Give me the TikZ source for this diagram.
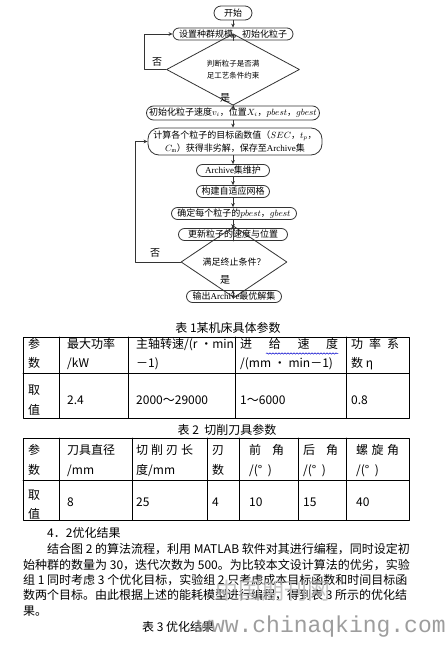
\documentclass[tikz,border=0pt]{standalone}
\usepackage{fontspec}
\setmainfont{Liberation Serif}
\newfontfamily\cjk{Noto Sans CJK SC}
\newfontfamily\wmfont{Liberation Mono}
\usetikzlibrary{arrows.meta,shapes.geometric,decorations.pathmorphing}
\newcommand\fcfont{\cjk\fontsize{9}{11}\selectfont}
\newcommand\tabfont{\cjk\fontsize{12}{14}\selectfont}

\begin{document}
\begin{tikzpicture}[x=1pt, y=-1pt, >={Stealth[length=4pt,width=3.6pt]},
    line cap=round, line join=round,
    box/.style={draw=black!80, line width=0.8pt, rounded corners=6pt,
                inner sep=0pt, font=\fcfont, align=center, minimum height=12pt},
    cond/.style={draw=black!80, line width=0.8pt, diamond, inner sep=0pt,
                 font=\fcfont, align=center},
    flow/.style={->, draw=black!80, line width=0.8pt},
    lab/.style={font=\cjk\fontsize{10}{12}\selectfont, inner sep=0pt},
    cell/.style={anchor=base west, font=\tabfont, inner sep=0pt},
    tabline/.style={line width=0.9pt}]
  \useasboundingbox (0,0) rectangle (447,661);
  \fill[white] (0,0) rectangle (447,661);

  % Flowchart boxes (image coordinates, y down)
  \node[box, minimum width=38pt, minimum height=14pt, rounded corners=7pt] (start) at (233,13) {开始};
  \node[box, minimum width=120pt] (init) at (233,34) {设置种群规模，初始化粒子};
  \node[cond, minimum width=133pt, minimum height=38pt,
        font=\cjk\fontsize{7.5}{12}\selectfont] (check) at (233,69.5) {判断粒子是否满\\足工艺条件约束};
  \node[box, minimum width=173pt, minimum height=14pt, rounded corners=7pt] (initv) at (233,113)
    {初始化粒子速度$v_i$，位置$X_i$，$pbest$，$gbest$};
  \node[box, minimum width=174pt, minimum height=27pt, rounded corners=11pt,
        font=\cjk\fontsize{9}{13}\selectfont] (evalf) at (235,141.5)
    {计算各个粒子的目标函数值（$SEC$，$t_p$，\\$C_{\mathrm{m}}$）获得非劣解，保存至{\rmfamily Archive}集};
  \node[box, minimum width=73pt] (archive) at (233,170.5) {{\rmfamily Archive}集维护};
  \node[box, minimum width=73pt] (mesh) at (233,191.5) {构建自适应网格};
  \node[box, minimum width=125pt] (best) at (234,213.5) {确定每个粒子的$pbest$，$gbest$};
  \node[box, minimum width=109pt] (update) at (233,234.5) {更新粒子的速度与位置};
  \node[cond, minimum width=106pt, minimum height=23pt] (stop) at (234,262) {满足终止条件？};
  \node[box, minimum width=95pt] (output) at (234,296.5) {输出{\rmfamily Archive}最优解集};

  % Main flow
  \foreach \a/\b in {start/init, init/check, check/initv, initv/evalf, evalf/archive,
                     archive/mesh, mesh/best, best/update, update/stop, stop/output}
    \draw[flow] (\a.south -| init.center) -- (\b.north -| init.center);

  % Loops back
  \draw[flow] (check.west) -- ++(-22,0) |- (init.west);
  \draw[flow] (stop.west) -- ++(-45,0) |- (evalf.west);

  % Branch labels
  \node[lab] (no1) at (157,62) {否};
  \node[lab] (yes1) at (225,98) {是};
  \node[lab] (no2) at (155,253) {否};
  \node[lab] (yes2) at (225,280) {是};

  % Table 1
  \node[font=\tabfont, inner sep=0pt] (cap1) at (228,328) {表 1某机床具体参数};
  \draw[tabline] (23,337) rectangle (409,418) (23,373) -- (409,373);
  \foreach \x in {59,128,235,346} \draw[tabline] (\x,337) -- (\x,418);
  \node[cell] (t1a) at (28,348.5) {参};
  \node[cell] (t1b) at (28,367.5) {数};
  \node[cell] (t1c) at (67,348.5) {最大功率};
  \node[cell] (t1d) at (67,367.5) {/kW};
  \node[cell] (t1e) at (136,348.5) {主轴转速/(r ·min};
  \node[cell] (t1f) at (136,367.5) {－1)};
  \node[cell] (t1g) at (240,348.5) {\makebox[98pt][s]{进\hfill 给\hfill 速\hfill 度}};
  \node[cell] (t1h) at (240,367.5) {/(mm · min－1)};
  \node[cell] (t1i) at (351,348.5) {\makebox[48pt][s]{功\hfill 率\hfill 系}};
  \node[cell] (t1j) at (351,367.5) {数 η};
  \node[cell] (t1k) at (28,394.5) {取};
  \node[cell] (t1l) at (28,414.5) {值};
  \node[cell] (t1m) at (67,404.5) {2.4};
  \node[cell] (t1n) at (136,404.5) {2000～29000};
  \node[cell] (t1o) at (240,404.5) {1～6000};
  \node[cell] (t1p) at (351,404.5) {0.8};
  \draw[blue!80!black, line width=0.5pt, decorate,
        decoration={snake, amplitude=0.7pt, segment length=3pt}] (266,353.5) -- (338,353.5);

  % Table 2
  \node[font=\tabfont, inner sep=0pt] (cap2) at (227,430) {表 2\ \ 切削刀具参数};
  \draw[tabline] (23,438) rectangle (409,520) (23,480) -- (409,480);
  \foreach \x in {59,132,207,239,298,346} \draw[tabline] (\x,438) -- (\x,520);
  \node[cell] (t2a) at (28,454.5) {参};
  \node[cell] (t2b) at (28,474.5) {数};
  \node[cell] (t2c) at (67,454.5) {刀具直径};
  \node[cell] (t2d) at (67,474.5) {/mm};
  \node[cell] (t2e) at (136,454.5) {\makebox[57pt][s]{切\hfill 削\hfill 刃\hfill 长}};
  \node[cell] (t2f) at (136,474.5) {度/mm};
  \node[cell] (t2g) at (212,454.5) {刃};
  \node[cell] (t2h) at (212,474.5) {数};
  \node[cell] (t2i) at (249,454.5) {\makebox[35pt][s]{前\hfill 角}};
  \node[cell] (t2j) at (249,474.5) {/(°\ \ )};
  \node[cell] (t2k) at (303,454.5) {\makebox[35pt][s]{后\hfill 角}};
  \node[cell] (t2l) at (303,474.5) {/(°\ \ )};
  \node[cell] (t2m) at (356,454.5) {\makebox[43pt][s]{螺\hfill 旋\hfill 角}};
  \node[cell] (t2n) at (356,474.5) {/(°\ \ )};
  \node[cell] (t2o) at (28,499.5) {取};
  \node[cell] (t2p) at (28,518.5) {值};
  \node[cell] (t2q) at (67,506.5) {8};
  \node[cell] (t2r) at (136,506.5) {25};
  \node[cell] (t2s) at (212,506.5) {4};
  \node[cell] (t2t) at (249,506.5) {10};
  \node[cell] (t2u) at (303,506.5) {15};
  \node[cell] (t2v) at (356,506.5) {40};

  % Body text
  \node[cell] (sec) at (47,537.5) {4．2优化结果};
  \node[cell] (p1) at (47,553.6) {结合图 2 的算法流程，利用 MATLAB 软件对其进行编程，同时设定初};
  \node[cell] (p2) at (23,569.6) {始种群的数量为 30，迭代次数为 500。为比较本文设计算法的优劣，实验};
  \node[cell] (p3) at (23,584.6) {组 1 同时考虑 3 个优化目标，实验组 2 只考虑成本目标函数和时间目标函};
  \node[cell] (p4) at (23,599.6) {数两个目标。由此根据上述的能耗模型进行编程，得到表 3 所示的优化结};
  \node[cell] (p5) at (23,615.6) {果。};
  \node[cell] (cap3) at (142,631.6) {表 3 优化结果};

  % Watermarks
  \node[font=\cjk\fontsize{23}{23}\selectfont, text=black!28, opacity=0.8, inner sep=0pt] (wm1) at (273,591) {中国期刊网};
  \node[anchor=west, font=\wmfont\fontsize{23}{23}\selectfont, text=black!45, opacity=0.85, inner sep=0pt] (wm2) at (197,627) {www.chinaqking.com};
\end{tikzpicture}
\end{document}
